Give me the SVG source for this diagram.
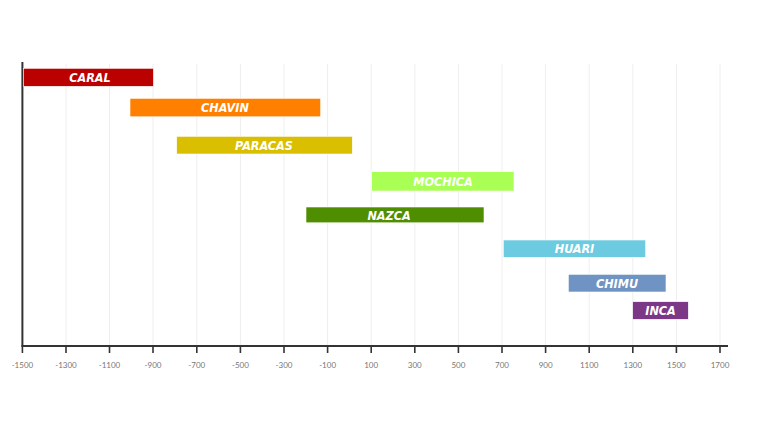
<svg xmlns="http://www.w3.org/2000/svg" width="768" height="432" viewBox="0 0 768 432">
<style>
.grid{stroke:#eeeeee;stroke-width:1}
.tick{stroke:#333;stroke-width:1.6}
.tl{font-family:Lato,"Liberation Sans",sans-serif;font-size:8px;fill:#777;text-anchor:middle}
.bar{stroke:#ffffff;stroke-width:0.6}
.lbl{font-family:"DejaVu Sans Condensed","DejaVu Sans",sans-serif;font-weight:bold;font-style:oblique;font-size:12.5px;fill:#fff;text-anchor:middle;dominant-baseline:central}
</style>
<rect width="768" height="432" fill="#ffffff"/>
<g id="grid">
<line class="grid" x1="66" y1="64" x2="66" y2="345"/>
<line class="grid" x1="109.5" y1="64" x2="109.5" y2="345"/>
<line class="grid" x1="153" y1="64" x2="153" y2="345"/>
<line class="grid" x1="196.8" y1="64" x2="196.8" y2="345"/>
<line class="grid" x1="240.4" y1="64" x2="240.4" y2="345"/>
<line class="grid" x1="284" y1="64" x2="284" y2="345"/>
<line class="grid" x1="327.6" y1="64" x2="327.6" y2="345"/>
<line class="grid" x1="371.2" y1="64" x2="371.2" y2="345"/>
<line class="grid" x1="414.8" y1="64" x2="414.8" y2="345"/>
<line class="grid" x1="458.4" y1="64" x2="458.4" y2="345"/>
<line class="grid" x1="502" y1="64" x2="502" y2="345"/>
<line class="grid" x1="545.6" y1="64" x2="545.6" y2="345"/>
<line class="grid" x1="589.2" y1="64" x2="589.2" y2="345"/>
<line class="grid" x1="632.8" y1="64" x2="632.8" y2="345"/>
<line class="grid" x1="676.4" y1="64" x2="676.4" y2="345"/>
<line class="grid" x1="720" y1="64" x2="720" y2="345"/>
</g>
<g id="axis">
<line x1="22.4" y1="62" x2="22.4" y2="346.5" stroke="#333" stroke-width="2"/>
<line x1="21.5" y1="346" x2="728" y2="346" stroke="#333" stroke-width="1.8"/>
<line class="tick" x1="22.4" y1="346" x2="22.4" y2="353"/>
<line class="tick" x1="66" y1="346" x2="66" y2="353"/>
<line class="tick" x1="109.5" y1="346" x2="109.5" y2="353"/>
<line class="tick" x1="153" y1="346" x2="153" y2="353"/>
<line class="tick" x1="196.8" y1="346" x2="196.8" y2="353"/>
<line class="tick" x1="240.4" y1="346" x2="240.4" y2="353"/>
<line class="tick" x1="284" y1="346" x2="284" y2="353"/>
<line class="tick" x1="327.6" y1="346" x2="327.6" y2="353"/>
<line class="tick" x1="371.2" y1="346" x2="371.2" y2="353"/>
<line class="tick" x1="414.8" y1="346" x2="414.8" y2="353"/>
<line class="tick" x1="458.4" y1="346" x2="458.4" y2="353"/>
<line class="tick" x1="502" y1="346" x2="502" y2="353"/>
<line class="tick" x1="545.6" y1="346" x2="545.6" y2="353"/>
<line class="tick" x1="589.2" y1="346" x2="589.2" y2="353"/>
<line class="tick" x1="632.8" y1="346" x2="632.8" y2="353"/>
<line class="tick" x1="676.4" y1="346" x2="676.4" y2="353"/>
<line class="tick" x1="720" y1="346" x2="720" y2="353"/>
<text class="tl" x="22.4" y="368">-1500</text>
<text class="tl" x="66" y="368">-1300</text>
<text class="tl" x="109.5" y="368">-1100</text>
<text class="tl" x="153" y="368">-900</text>
<text class="tl" x="196.8" y="368">-700</text>
<text class="tl" x="240.4" y="368">-500</text>
<text class="tl" x="284" y="368">-300</text>
<text class="tl" x="327.6" y="368">-100</text>
<text class="tl" x="371.2" y="368">100</text>
<text class="tl" x="414.8" y="368">300</text>
<text class="tl" x="458.4" y="368">500</text>
<text class="tl" x="502" y="368">700</text>
<text class="tl" x="545.6" y="368">900</text>
<text class="tl" x="589.2" y="368">1100</text>
<text class="tl" x="632.8" y="368">1300</text>
<text class="tl" x="676.4" y="368">1500</text>
<text class="tl" x="720" y="368">1700</text>
</g>
<g id="caral"><rect class="bar" x="23.4" y="68.3" width="130" height="18" fill="#bb0000"/><text class="lbl" x="90" y="77.5">CARAL</text></g>
<g id="chavin"><rect class="bar" x="130" y="98.3" width="190.7" height="18.5" fill="#ff7f00"/><text class="lbl" x="225" y="107.5">CHAVIN</text></g>
<g id="paracas"><rect class="bar" x="176.7" y="136.3" width="175.6" height="17.7" fill="#d9bf00"/><text class="lbl" x="264" y="145.2">PARACAS</text></g>
<g id="mochica"><rect class="bar" x="371.7" y="171.7" width="142.3" height="19.3" fill="#aaff55"/><text class="lbl" x="443" y="181.3">MOCHICA</text></g>
<g id="nazca"><rect class="bar" x="306" y="207" width="178" height="15.8" fill="#4e8e00"/><text class="lbl" x="389" y="215">NAZCA</text></g>
<g id="huari"><rect class="bar" x="503.3" y="240" width="142.4" height="17.3" fill="#6ccbe0"/><text class="lbl" x="574.5" y="248.6">HUARI</text></g>
<g id="chimu"><rect class="bar" x="568.3" y="274.3" width="97.7" height="17.7" fill="#6f93c3"/><text class="lbl" x="617" y="283.2">CHIMU</text></g>
<g id="inca"><rect class="bar" x="632.7" y="301.7" width="55.6" height="17.6" fill="#7d3787"/><text class="lbl" x="660.5" y="310.5">INCA</text></g>
</svg>
